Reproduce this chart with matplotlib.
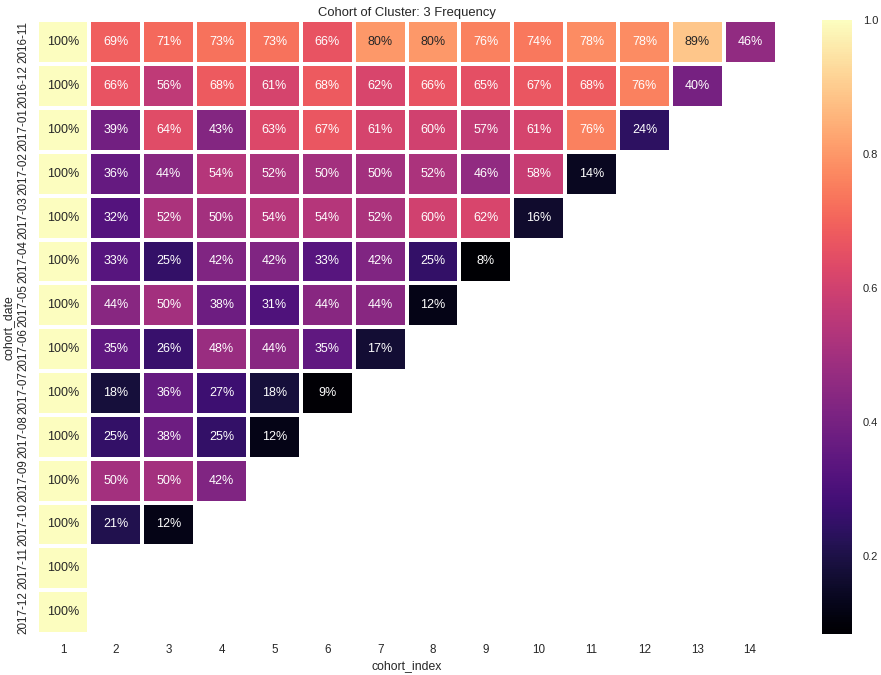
import numpy as np
import pandas as pd
import matplotlib
matplotlib.use("Agg")
import matplotlib.pyplot as plt
import seaborn as sns

# Datos de retencion por cohorte (fraccion)
cohort_dates = ["2016-11", "2016-12", "2017-01", "2017-02", "2017-03", "2017-04", "2017-05",
                "2017-06", "2017-07", "2017-08", "2017-09", "2017-10", "2017-11", "2017-12"]
cohort_index = list(range(1, 15))

r_2016_11 = [1.00, 0.69, 0.71, 0.73, 0.73, 0.66, 0.80, 0.80, 0.76, 0.74, 0.78, 0.78, 0.89, 0.46]
r_2016_12 = [1.00, 0.66, 0.56, 0.68, 0.61, 0.68, 0.62, 0.66, 0.65, 0.67, 0.68, 0.76, 0.40]
r_2017_01 = [1.00, 0.39, 0.64, 0.43, 0.63, 0.67, 0.61, 0.60, 0.57, 0.61, 0.76, 0.24]
r_2017_02 = [1.00, 0.36, 0.44, 0.54, 0.52, 0.50, 0.50, 0.52, 0.46, 0.58, 0.14]
r_2017_03 = [1.00, 0.32, 0.52, 0.50, 0.54, 0.54, 0.52, 0.60, 0.62, 0.16]
r_2017_04 = [1.00, 0.33, 0.25, 0.42, 0.42, 0.33, 0.42, 0.25, 0.083]
r_2017_05 = [1.00, 0.44, 0.50, 0.38, 0.31, 0.44, 0.44, 0.12]
r_2017_06 = [1.00, 0.35, 0.26, 0.48, 0.44, 0.35, 0.17]
r_2017_07 = [1.00, 0.18, 0.36, 0.27, 0.18, 0.09]
r_2017_08 = [1.00, 0.25, 0.38, 0.25, 0.12]
r_2017_09 = [1.00, 0.50, 0.50, 0.42]
r_2017_10 = [1.00, 0.21, 0.12]
r_2017_11 = [1.00]
r_2017_12 = [1.00]

filas = [r_2016_11, r_2016_12, r_2017_01, r_2017_02, r_2017_03, r_2017_04, r_2017_05,
         r_2017_06, r_2017_07, r_2017_08, r_2017_09, r_2017_10, r_2017_11, r_2017_12]

matriz = np.full((len(cohort_dates), len(cohort_index)), np.nan)
for i, fila in enumerate(filas):
    matriz[i, :len(fila)] = fila

retention = pd.DataFrame(matriz, index=pd.Index(cohort_dates, name="cohort_date"),
                         columns=pd.Index(cohort_index, name="cohort_index"))

plt.rcParams["font.family"] = ["Liberation Sans", "DejaVu Sans"]
plt.rcParams["text.color"] = ".15"
plt.rcParams["axes.labelcolor"] = ".15"
plt.rcParams["xtick.color"] = ".15"
plt.rcParams["ytick.color"] = ".15"

fig = plt.figure(figsize=(8.81, 6.75), dpi=100)
ax = fig.add_axes([0.0415, 0.0607, 0.840, 0.909])
cax = fig.add_axes([0.933, 0.0607, 0.034, 0.909])

sns.heatmap(retention, annot=True, fmt=".0%", cmap="magma", linewidths=1.6, linecolor="white",
            ax=ax, cbar_ax=cax, annot_kws={"fontsize": 9})

ax.set_title("Cohort of Cluster: 3 Frequency", fontsize=9.4, pad=3)
ax.set_xlabel("cohort_index", fontsize=8.8, labelpad=3)
ax.set_ylabel("cohort_date", fontsize=8.8, labelpad=2)
ax.tick_params(axis="x", length=0, labelsize=8.4, pad=7)
ax.tick_params(axis="y", length=0, labelsize=8.4, pad=5)
plt.setp(ax.get_yticklabels(), rotation=90, va="center")
cax.tick_params(length=0, labelsize=8, pad=8)
for s in cax.spines.values():
    s.set_visible(False)

fig.savefig("out.png", dpi=100)
